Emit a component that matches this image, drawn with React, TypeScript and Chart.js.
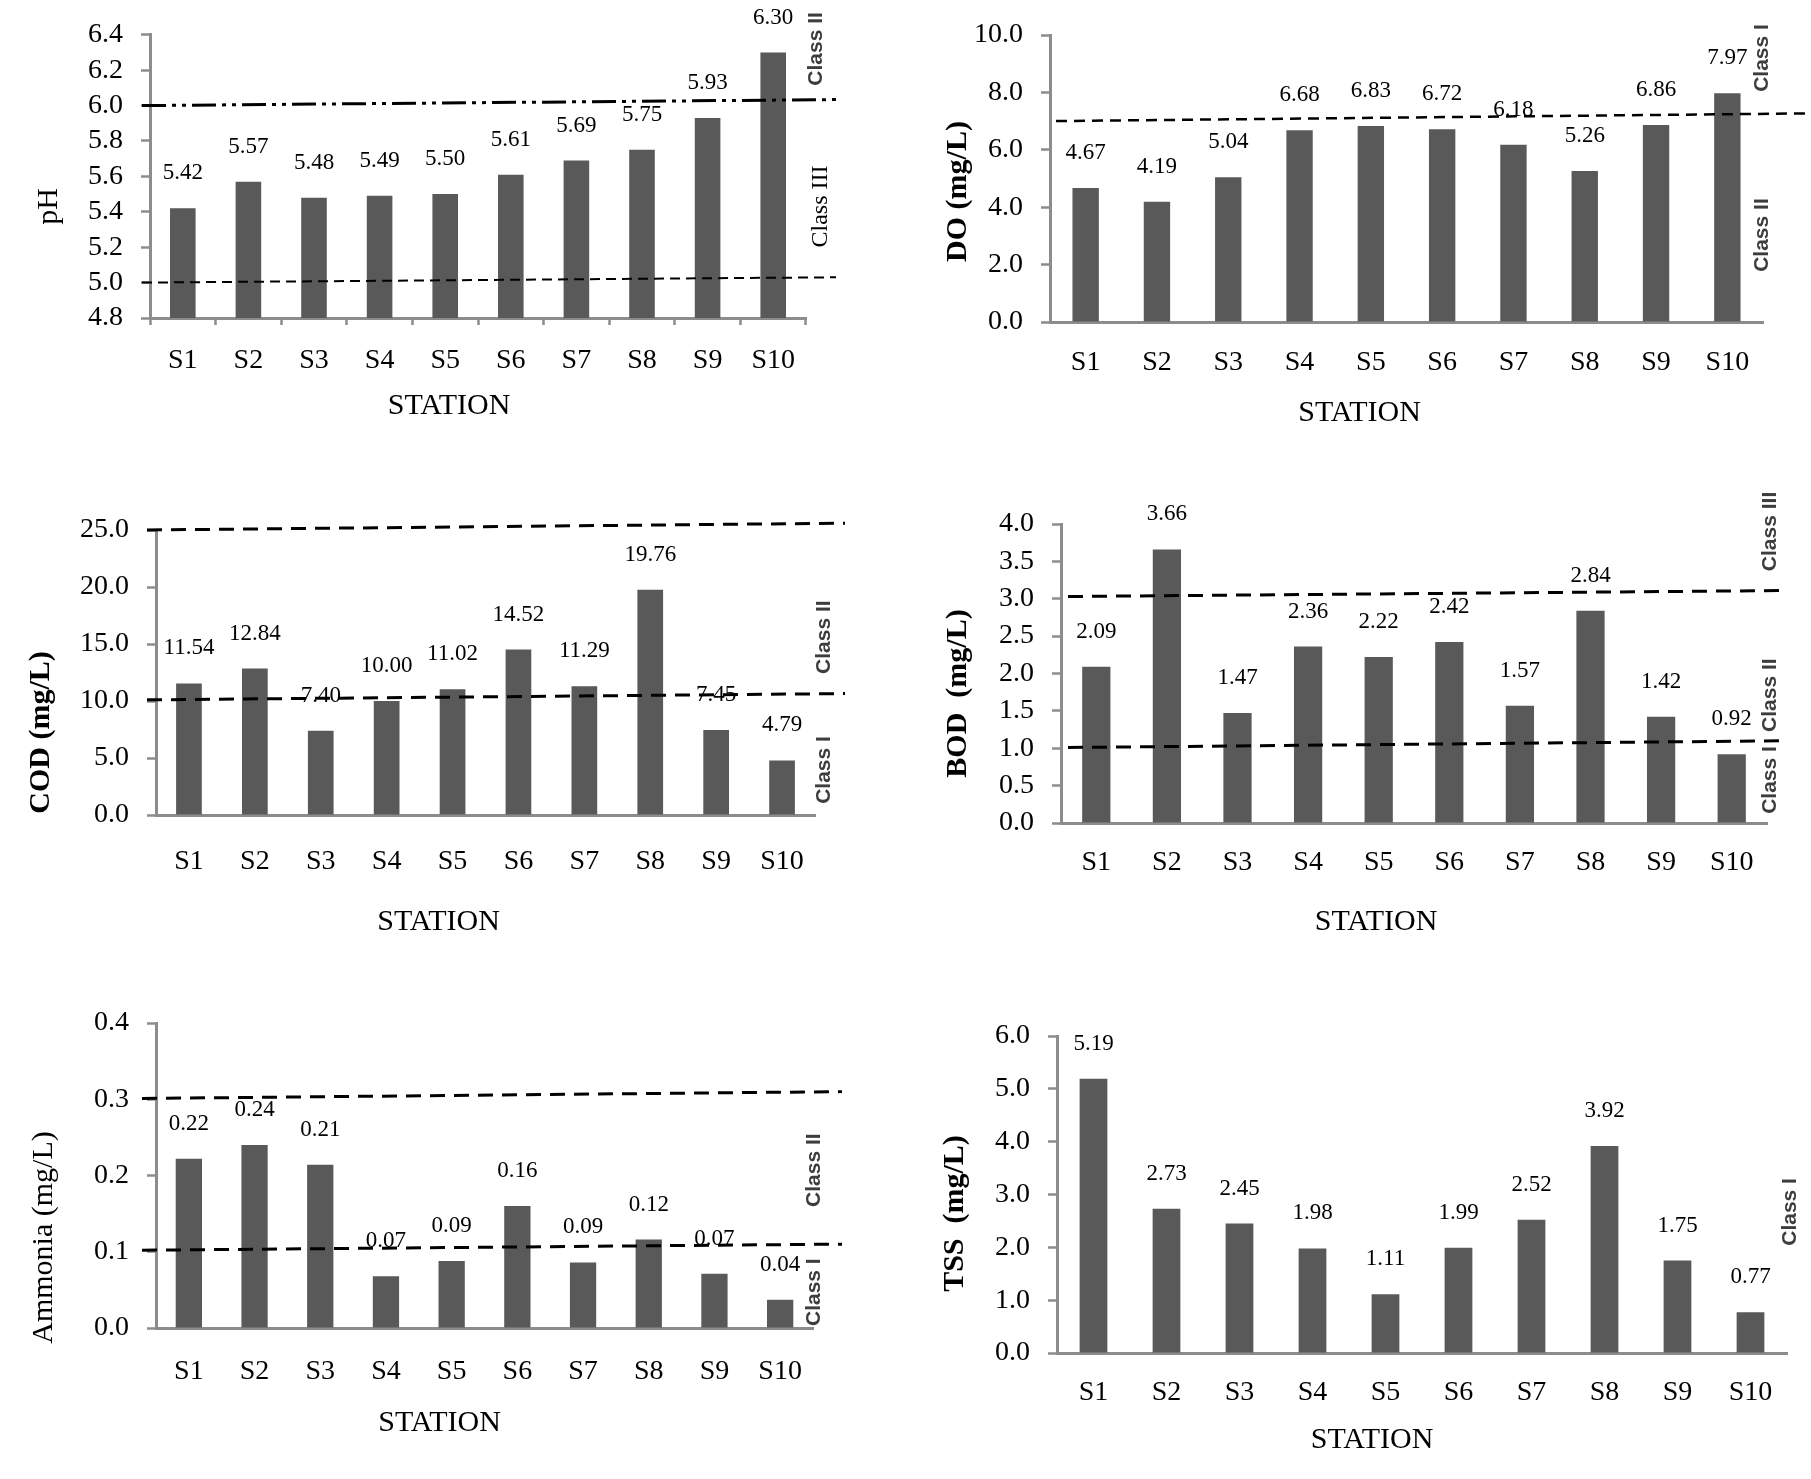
import React, { useEffect, useRef } from 'react';
import { Chart, registerables } from 'chart.js';

Chart.register(...registerables);

// ---------------- data ----------------
const stations = ['S1', 'S2', 'S3', 'S4', 'S5', 'S6', 'S7', 'S8', 'S9', 'S10'];

const phValues = [5.42, 5.57, 5.48, 5.49, 5.5, 5.61, 5.69, 5.75, 5.93, 6.3];
const doValues = [4.67, 4.19, 5.04, 6.68, 6.83, 6.72, 6.18, 5.26, 6.86, 7.97];
const codValues = [11.54, 12.84, 7.4, 10.0, 11.02, 14.52, 11.29, 19.76, 7.45, 4.79];
const bodValues = [2.09, 3.66, 1.47, 2.36, 2.22, 2.42, 1.57, 2.84, 1.42, 0.92];
const ammoniaValues = [0.222, 0.24, 0.214, 0.068, 0.088, 0.16, 0.086, 0.116, 0.071, 0.037];
const tssValues = [5.19, 2.73, 2.45, 1.98, 1.11, 1.99, 2.52, 3.92, 1.75, 0.77];

// y axes: [min, max, step]
const phAxis = [4.8, 6.4, 0.2];
const doAxis = [0, 10, 2];
const codAxis = [0, 25, 5];
const bodAxis = [0, 4, 0.5];
const ammoniaAxis = [0, 0.4, 0.1];
const tssAxis = [0, 6, 1];

// class limit lines: [value at left end, value at right end]
const phLimits = [[6.0, 6.034], [5.0, 5.03]];
const doLimits = [[7.0, 7.27]];
const codLimits = [[25.0, 25.6], [10.1, 10.65]];
const bodLimits = [[3.03, 3.11], [1.01, 1.1]];
const ammoniaLimits = [[0.301, 0.31], [0.102, 0.11]];
const tssLimits: number[][] = [];

// ---------------- styles ----------------
const SERIF = '"Liberation Serif", "Times New Roman", Times, serif';
const SANS = '"Liberation Sans", Arial, sans-serif';
const AXIS = '#8c8c8c';
const BAR = '#595959';
const W = 1811;
const H = 1479;

const DASH = { dash: [15, 9], width: 3 };

const panels = [
  {
    values: phValues, axis: phAxis, area: { left: 150, top: 34, right: 806, bottom: 318 },
    barPct: 0.39, xTicks: true, xPad: 19,
    yTitle: 'pH', yBold: false, yDx: -101, yDy: 30,
    stDx: -29, stDy: 88,
    limits: phLimits,
    limitStyles: [{ dash: [24, 6, 4, 6, 4, 6], width: 3 }, { dash: [10, 6], width: 2 }],
    limitExt: [-8, 30],
    classes: [
      { text: 'Class II', value: 6.32, dx: 10, serif: false },
      { text: 'Class III', value: 5.43, dx: 15, serif: true },
    ],
  },
  {
    values: doValues, axis: doAxis, area: { left: 1050, top: 35, right: 1763, bottom: 322 },
    barPct: 0.37, xTicks: false, xPad: 24,
    yTitle: 'DO (mg/L)', yBold: true, yDx: -92, yDy: 13,
    stDx: -47, stDy: 91,
    limits: doLimits,
    limitStyles: [{ dash: [11, 7], width: 2.5 }],
    limitExt: [6, 48],
    classes: [
      { text: 'Class I', value: 9.2, dx: -1, serif: false },
      { text: 'Class II', value: 3.03, dx: -1, serif: false },
    ],
  },
  {
    values: codValues, axis: codAxis, area: { left: 156, top: 530, right: 815, bottom: 815 },
    barPct: 0.39, xTicks: false, xPad: 30,
    yTitle: 'COD (mg/L)', yBold: true, yDx: -115, yDy: 60,
    stDx: -47, stDy: 107,
    limits: codLimits,
    limitStyles: [DASH, DASH],
    limitExt: [-9, 30],
    classes: [
      { text: 'Class II', value: 15.6, dx: 9, serif: false },
      { text: 'Class I', value: 3.95, dx: 9, serif: false },
    ],
  },
  {
    values: bodValues, axis: bodAxis, area: { left: 1061, top: 524, right: 1767, bottom: 823 },
    barPct: 0.4, xTicks: false, xPad: 23,
    yTitle: 'BOD  (mg/L)', yBold: true, yDx: -103, yDy: 20,
    stDx: -38, stDy: 99,
    limits: bodLimits,
    limitStyles: [DASH, DASH],
    limitExt: [7, 18],
    classes: [
      { text: 'Class III', value: 3.9, dx: 3, serif: false },
      { text: 'Class II', value: 1.71, dx: 3, serif: false },
      { text: 'Class I', value: 0.575, dx: 3, serif: false },
    ],
  },
  {
    values: ammoniaValues, axis: ammoniaAxis, area: { left: 156, top: 1023, right: 813, bottom: 1328 },
    barPct: 0.4, xTicks: false, xPad: 27,
    yTitle: 'Ammonia (mg/L)', yBold: false, yDx: -112, yDy: 62,
    stDx: -45, stDy: 95,
    limits: ammoniaLimits,
    limitStyles: [DASH, DASH],
    limitExt: [-14, 29],
    classes: [
      { text: 'Class II', value: 0.207, dx: 1, serif: false },
      { text: 'Class I', value: 0.047, dx: 1, serif: false },
    ],
  },
  {
    values: tssValues, axis: tssAxis, area: { left: 1057, top: 1036, right: 1787, bottom: 1353 },
    barPct: 0.38, xTicks: false, xPad: 23,
    yTitle: 'TSS  (mg/L)', yBold: true, yDx: -102, yDy: 19,
    stDx: -50, stDy: 87,
    limits: tssLimits,
    limitStyles: [],
    limitExt: [0, 0],
    classes: [{ text: 'Class I', value: 2.67, dx: 3, serif: false }],
  },
];

type PanelDef = typeof panels[number];

function makeOverlay(p: PanelDef) {
  return {
    id: 'overlay',
    afterDatasetsDraw(chart: any) {
      const ctx: CanvasRenderingContext2D = chart.ctx;
      const { left, right, top, bottom } = chart.chartArea;
      const y = chart.scales.y;
      ctx.save();
      // value labels
      const meta = chart.getDatasetMeta(0);
      ctx.fillStyle = '#000';
      ctx.font = `23px ${SERIF}`;
      ctx.textAlign = 'center';
      ctx.textBaseline = 'middle';
      meta.data.forEach((bar: any, i: number) => {
        ctx.fillText(Number(p.values[i]).toFixed(2), bar.x, bar.y - 35);
      });
      // limit lines
      p.limits.forEach((lim: number[], i: number) => {
        const st = p.limitStyles[i];
        ctx.beginPath();
        ctx.setLineDash(st.dash);
        ctx.lineWidth = st.width;
        ctx.strokeStyle = '#000';
        ctx.moveTo(left + p.limitExt[0], y.getPixelForValue(lim[0]));
        ctx.lineTo(right + p.limitExt[1], y.getPixelForValue(lim[1]));
        ctx.stroke();
      });
      ctx.setLineDash([]);
      // class labels
      p.classes.forEach((c) => {
        ctx.save();
        ctx.translate(right + c.dx, y.getPixelForValue(c.value));
        ctx.rotate(-Math.PI / 2);
        ctx.font = c.serif ? `24px ${SERIF}` : `bold 21px ${SANS}`;
        ctx.fillStyle = c.serif ? '#000' : '#3d3d3d';
        ctx.textAlign = 'center';
        ctx.textBaseline = 'middle';
        ctx.fillText(c.text, 0, 0);
        ctx.restore();
      });
      // y title
      ctx.save();
      ctx.translate(left + p.yDx, (top + bottom) / 2 + p.yDy);
      ctx.rotate(-Math.PI / 2);
      ctx.font = `${p.yBold ? 'bold ' : ''}30px ${SERIF}`;
      ctx.fillStyle = '#000';
      ctx.textAlign = 'center';
      ctx.textBaseline = 'middle';
      ctx.fillText(p.yTitle, 0, 0);
      ctx.restore();
      // x title
      ctx.font = `30px ${SERIF}`;
      ctx.fillStyle = '#000';
      ctx.textAlign = 'center';
      ctx.textBaseline = 'middle';
      ctx.fillText('STATION', (left + right) / 2 + p.stDx, bottom + p.stDy);
      ctx.restore();
    },
  };
}

function PanelChart({ p }: { p: PanelDef }) {
  const ref = useRef<HTMLCanvasElement | null>(null);
  useEffect(() => {
    if (!ref.current) return;
    const Y_W = 100;
    const X_H = 60;
    const chart = new Chart(ref.current, {
      type: 'bar',
      data: {
        labels: stations,
        datasets: [
          {
            data: p.values,
            backgroundColor: BAR,
            borderWidth: 0,
            barPercentage: p.barPct,
            categoryPercentage: 1,
          },
        ],
      },
      options: {
        responsive: false,
        devicePixelRatio: 1,
        animation: false,
        layout: {
          padding: {
            left: p.area.left - Y_W,
            right: W - p.area.right,
            top: p.area.top,
            bottom: H - p.area.bottom - X_H,
          },
        },
        plugins: {
          legend: { display: false },
          tooltip: { enabled: false },
        },
        scales: {
          x: {
            type: 'category',
            ticks: {
              color: '#000',
              font: { family: SERIF, size: 28 },
              padding: p.xPad,
              maxRotation: 0,
              minRotation: 0,
              autoSkip: false,
            },
            grid: {
              display: p.xTicks,
              drawOnChartArea: false,
              drawTicks: p.xTicks,
              tickLength: 7,
              tickColor: AXIS,
              tickWidth: 2.5,
              offset: true,
            },
            border: { display: true, color: AXIS, width: 3 },
            afterFit: (s: any) => {
              s.height = X_H;
            },
          },
          y: {
            type: 'linear',
            min: p.axis[0],
            max: p.axis[1],
            ticks: {
              stepSize: p.axis[2],
              color: '#000',
              font: { family: SERIF, size: 28 },
              padding: 18,
              autoSkip: false,
              callback: (v: any) => Number(v).toFixed(1),
            },
            grid: {
              display: true,
              drawOnChartArea: false,
              drawTicks: true,
              tickLength: 9,
              tickColor: AXIS,
              tickWidth: 2.5,
            },
            border: { display: true, color: AXIS, width: 3 },
            afterFit: (s: any) => {
              s.width = Y_W;
            },
          },
        },
      },
      plugins: [makeOverlay(p)],
    } as any);
    return () => chart.destroy();
  }, [p]);
  return (
    <canvas
      ref={ref}
      width={W}
      height={H}
      style={{ position: 'absolute', left: 0, top: 0, width: W, height: H }}
    />
  );
}

export default function App() {
  return (
    <div
      style={{
        position: 'absolute',
        left: 0,
        top: 0,
        width: W,
        height: H,
        background: '#fff',
        overflow: 'hidden',
      }}
    >
      {panels.map((p, i) => (
        <PanelChart key={i} p={p} />
      ))}
    </div>
  );
}
